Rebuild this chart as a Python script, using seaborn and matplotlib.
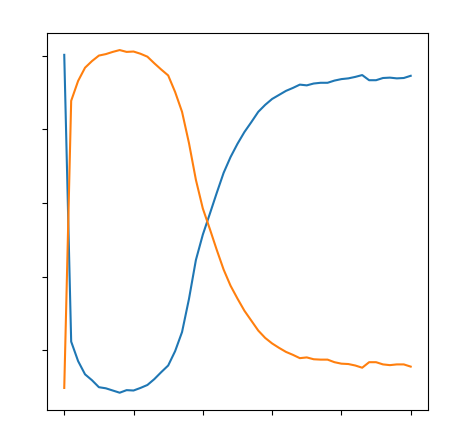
import numpy as np
import pandas as pd
import matplotlib
matplotlib.use("Agg")
import matplotlib.pyplot as plt
import seaborn as sns

# ── Data ──────────────────────────────────────────────────────
steps = list(range(51))

blue = [1.003, 0.223, 0.170, 0.134, 0.118, 0.099, 0.096, 0.090, 0.084, 0.091,
        0.090, 0.097, 0.105, 0.121, 0.140, 0.158, 0.197, 0.249, 0.339, 0.445,
        0.514, 0.570, 0.627, 0.682, 0.725, 0.761, 0.793, 0.820, 0.848, 0.867,
        0.883, 0.894, 0.905, 0.913, 0.922, 0.920, 0.925, 0.927, 0.927, 0.933,
        0.937, 0.939, 0.943, 0.948, 0.934, 0.934, 0.940, 0.941, 0.939, 0.940,
        0.946]

orange = [0.097, 0.878, 0.932, 0.968, 0.986, 1.001, 1.005, 1.011, 1.016, 1.011,
          1.012, 1.006, 0.998, 0.980, 0.963, 0.947, 0.902, 0.848, 0.763, 0.663,
          0.585, 0.530, 0.473, 0.419, 0.375, 0.340, 0.307, 0.280, 0.253, 0.233,
          0.218, 0.206, 0.195, 0.187, 0.178, 0.180, 0.175, 0.174, 0.174, 0.167,
          0.163, 0.162, 0.158, 0.152, 0.167, 0.167, 0.161, 0.159, 0.161, 0.161,
          0.155]

df = pd.DataFrame({
    "step":   steps * 2,
    "value":  blue + orange,
    "series": ["a"] * len(steps) + ["b"] * len(steps),
})

fig, ax = plt.subplots(figsize=(4.74, 4.45), dpi=100)
fig.subplots_adjust(left=0.099, right=0.903, bottom=0.079, top=0.926)

sns.lineplot(data=df, x="step", y="value", hue="series",
             palette=["#1f77b4", "#ff7f0e"], linewidth=1.5,
             legend=False, ax=ax)

ax.set_xticks([0, 10, 20, 30, 40, 50])
ax.set_yticks([0.2, 0.4, 0.6, 0.8, 1.0])
ax.tick_params(labelbottom=False, labelleft=False)
ax.set_xlabel("")
ax.set_ylabel("")

plt.savefig("out.png", dpi=100)
plt.close()
